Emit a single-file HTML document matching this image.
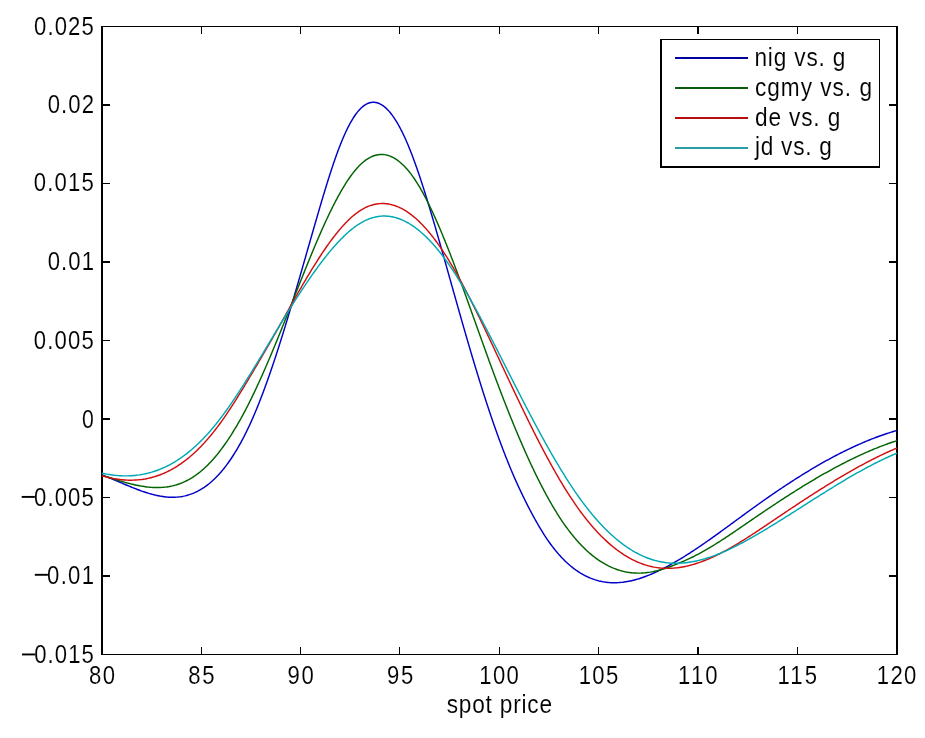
<!DOCTYPE html>
<html><head><meta charset="utf-8"><style>
html,body{margin:0;padding:0;background:#fff;width:925px;height:738px;overflow:hidden}
svg{display:block}
text{font-family:"Liberation Sans",sans-serif;fill:#000}
text{filter:grayscale(1)}
text{stroke:#fff;stroke-width:0.1px}
</style></head><body>
<svg width="925" height="738" viewBox="0 0 925 738">
<rect width="925" height="738" fill="#fff"/>
<g fill="#000" shape-rendering="crispEdges">
<rect x="101" y="26" width="2" height="629"/>
<rect x="896" y="26" width="2" height="629"/>
<rect x="101" y="26" width="797" height="1"/>
<rect x="101" y="654" width="797" height="1"/>
<rect x="201" y="647" width="1" height="7"/>
<rect x="201" y="27" width="1" height="7"/>
<rect x="300" y="647" width="1" height="7"/>
<rect x="300" y="27" width="1" height="7"/>
<rect x="399" y="647" width="1" height="7"/>
<rect x="399" y="27" width="1" height="7"/>
<rect x="499" y="647" width="1" height="7"/>
<rect x="499" y="27" width="1" height="7"/>
<rect x="598" y="647" width="1" height="7"/>
<rect x="598" y="27" width="1" height="7"/>
<rect x="697" y="647" width="2" height="7"/>
<rect x="697" y="27" width="2" height="7"/>
<rect x="797" y="647" width="1" height="7"/>
<rect x="797" y="27" width="1" height="7"/>
<rect x="103" y="104" width="7" height="2"/>
<rect x="889" y="104" width="7" height="2"/>
<rect x="103" y="183" width="7" height="1"/>
<rect x="889" y="183" width="7" height="1"/>
<rect x="103" y="261" width="7" height="2"/>
<rect x="889" y="261" width="7" height="2"/>
<rect x="103" y="340" width="7" height="1"/>
<rect x="889" y="340" width="7" height="1"/>
<rect x="103" y="418" width="7" height="2"/>
<rect x="889" y="418" width="7" height="2"/>
<rect x="103" y="497" width="7" height="1"/>
<rect x="889" y="497" width="7" height="1"/>
<rect x="103" y="575" width="7" height="2"/>
<rect x="889" y="575" width="7" height="2"/>
</g>
<path d="M102.00,474.98 L103.41,475.51 L104.81,476.05 L106.21,476.60 L107.61,477.15 L109.00,477.71 L110.39,478.28 L111.78,478.85 L113.17,479.43 L114.55,480.01 L115.94,480.60 L117.32,481.18 L118.71,481.77 L120.09,482.36 L121.47,482.95 L122.85,483.54 L124.24,484.13 L125.62,484.71 L127.01,485.29 L128.39,485.87 L129.78,486.45 L131.17,487.02 L132.57,487.58 L133.96,488.14 L135.36,488.69 L136.76,489.23 L138.17,489.77 L139.57,490.29 L140.99,490.81 L142.40,491.31 L143.82,491.80 L145.25,492.27 L146.68,492.74 L148.11,493.18 L149.55,493.61 L151.00,494.03 L152.45,494.42 L153.91,494.79 L155.37,495.15 L156.83,495.48 L158.30,495.78 L159.78,496.07 L161.26,496.32 L162.75,496.55 L164.24,496.75 L165.73,496.92 L167.23,497.06 L168.73,497.16 L170.23,497.23 L171.73,497.27 L173.23,497.26 L174.73,497.23 L176.24,497.15 L177.73,497.03 L179.23,496.87 L180.72,496.68 L182.20,496.44 L183.68,496.16 L185.15,495.84 L186.61,495.48 L188.05,495.07 L189.49,494.63 L190.91,494.14 L192.32,493.62 L193.71,493.06 L195.09,492.46 L196.45,491.82 L197.80,491.15 L199.12,490.44 L200.43,489.70 L201.72,488.93 L202.99,488.13 L204.25,487.30 L205.48,486.44 L206.69,485.55 L207.89,484.64 L209.07,483.71 L210.23,482.75 L211.37,481.77 L212.49,480.78 L213.59,479.76 L214.68,478.72 L215.75,477.67 L216.81,476.59 L217.85,475.51 L218.87,474.41 L219.87,473.29 L220.87,472.16 L221.84,471.02 L222.80,469.86 L223.75,468.70 L224.69,467.52 L225.61,466.33 L226.51,465.13 L227.41,463.93 L228.29,462.71 L229.16,461.48 L230.02,460.25 L230.87,459.01 L231.71,457.76 L232.53,456.51 L233.35,455.24 L234.15,453.97 L234.95,452.70 L235.73,451.42 L236.51,450.13 L237.27,448.84 L238.03,447.54 L238.78,446.23 L239.52,444.93 L240.25,443.61 L240.97,442.30 L241.69,440.97 L242.40,439.65 L243.10,438.32 L243.79,436.98 L244.47,435.65 L245.15,434.31 L245.82,432.96 L246.49,431.61 L247.15,430.26 L247.80,428.91 L248.44,427.55 L249.08,426.19 L249.71,424.83 L250.34,423.46 L250.96,422.09 L251.58,420.72 L252.19,419.35 L252.79,417.97 L253.39,416.59 L253.99,415.21 L254.58,413.83 L255.16,412.45 L255.74,411.06 L256.32,409.67 L256.89,408.28 L257.45,406.89 L258.02,405.50 L258.58,404.10 L259.13,402.70 L259.68,401.31 L260.23,399.91 L260.77,398.50 L261.31,397.10 L261.85,395.70 L262.39,394.29 L262.92,392.89 L263.44,391.48 L263.97,390.07 L264.49,388.66 L265.01,387.25 L265.52,385.84 L266.04,384.43 L266.55,383.01 L267.06,381.60 L267.56,380.18 L268.06,378.77 L268.56,377.35 L269.06,375.93 L269.56,374.51 L270.05,373.09 L270.54,371.67 L271.03,370.25 L271.52,368.83 L272.00,367.41 L272.48,365.98 L272.96,364.56 L273.44,363.14 L273.92,361.71 L274.39,360.28 L274.87,358.86 L275.34,357.43 L275.81,356.00 L276.28,354.57 L276.74,353.15 L277.21,351.72 L277.67,350.29 L278.13,348.86 L278.59,347.43 L279.05,345.99 L279.51,344.56 L279.96,343.13 L280.41,341.70 L280.87,340.26 L281.32,338.83 L281.77,337.40 L282.22,335.96 L282.66,334.53 L283.11,333.09 L283.55,331.66 L284.00,330.22 L284.44,328.78 L284.88,327.35 L285.32,325.91 L285.76,324.47 L286.20,323.03 L286.63,321.60 L287.07,320.16 L287.50,318.72 L287.94,317.28 L288.37,315.84 L288.80,314.40 L289.23,312.96 L289.66,311.52 L290.09,310.08 L290.52,308.64 L290.95,307.20 L291.38,305.76 L291.80,304.32 L292.23,302.88 L292.65,301.43 L293.08,299.99 L293.50,298.55 L293.93,297.11 L294.35,295.67 L294.77,294.22 L295.19,292.78 L295.61,291.34 L296.03,289.90 L296.45,288.45 L296.87,287.01 L297.29,285.57 L297.71,284.12 L298.13,282.68 L298.55,281.24 L298.96,279.79 L299.38,278.35 L299.80,276.90 L300.22,275.46 L300.63,274.02 L301.05,272.57 L301.46,271.13 L301.88,269.68 L302.29,268.24 L302.71,266.79 L303.12,265.35 L303.54,263.91 L303.95,262.46 L304.37,261.02 L304.78,259.57 L305.20,258.13 L305.61,256.68 L306.03,255.24 L306.44,253.79 L306.85,252.35 L307.27,250.90 L307.68,249.46 L308.10,248.01 L308.51,246.57 L308.93,245.12 L309.34,243.68 L309.75,242.24 L310.17,240.79 L310.58,239.35 L311.00,237.90 L311.41,236.46 L311.83,235.01 L312.25,233.57 L312.66,232.12 L313.08,230.68 L313.49,229.24 L313.91,227.79 L314.33,226.35 L314.74,224.90 L315.16,223.46 L315.58,222.02 L316.00,220.57 L316.42,219.13 L316.84,217.69 L317.25,216.24 L317.67,214.80 L318.10,213.36 L318.52,211.91 L318.94,210.47 L319.36,209.03 L319.78,207.59 L320.21,206.15 L320.63,204.70 L321.06,203.26 L321.49,201.82 L321.91,200.38 L322.34,198.94 L322.77,197.50 L323.20,196.06 L323.64,194.62 L324.07,193.18 L324.51,191.74 L324.94,190.31 L325.38,188.87 L325.82,187.43 L326.26,186.00 L326.71,184.56 L327.15,183.12 L327.60,181.69 L328.05,180.26 L328.50,178.82 L328.96,177.39 L329.41,175.96 L329.87,174.53 L330.33,173.10 L330.80,171.67 L331.26,170.24 L331.73,168.81 L332.21,167.38 L332.68,165.96 L333.16,164.53 L333.65,163.11 L334.13,161.69 L334.62,160.27 L335.12,158.85 L335.62,157.43 L336.12,156.01 L336.63,154.60 L337.14,153.19 L337.66,151.78 L338.18,150.37 L338.71,148.96 L339.24,147.56 L339.79,146.15 L340.33,144.75 L340.89,143.36 L341.45,141.96 L342.02,140.57 L342.60,139.19 L343.18,137.80 L343.78,136.42 L344.39,135.05 L345.00,133.68 L345.63,132.31 L346.26,130.95 L346.91,129.59 L347.57,128.24 L348.25,126.90 L348.94,125.56 L349.64,124.23 L350.36,122.92 L351.10,121.61 L351.85,120.31 L352.63,119.02 L353.42,117.74 L354.24,116.48 L355.09,115.24 L355.96,114.02 L356.87,112.82 L357.80,111.64 L358.78,110.50 L359.79,109.39 L360.84,108.32 L361.95,107.30 L363.10,106.33 L364.30,105.43 L365.56,104.61 L366.88,103.89 L368.25,103.28 L369.67,102.80 L371.14,102.46 L372.63,102.29 L374.13,102.29 L375.63,102.45 L377.09,102.78 L378.52,103.25 L379.90,103.84 L381.23,104.54 L382.50,105.34 L383.73,106.21 L384.90,107.15 L386.03,108.14 L387.11,109.19 L388.15,110.27 L389.16,111.38 L390.14,112.53 L391.08,113.70 L391.99,114.89 L392.88,116.10 L393.74,117.34 L394.58,118.58 L395.40,119.84 L396.19,121.12 L396.97,122.40 L397.73,123.70 L398.48,125.00 L399.21,126.32 L399.92,127.64 L400.62,128.97 L401.31,130.31 L401.99,131.65 L402.65,133.00 L403.30,134.35 L403.95,135.71 L404.58,137.07 L405.20,138.44 L405.82,139.81 L406.42,141.19 L407.02,142.57 L407.61,143.95 L408.19,145.34 L408.76,146.73 L409.33,148.12 L409.89,149.51 L410.44,150.91 L410.99,152.31 L411.54,153.71 L412.07,155.11 L412.61,156.52 L413.14,157.92 L413.66,159.33 L414.18,160.74 L414.69,162.16 L415.20,163.57 L415.71,164.98 L416.21,166.40 L416.71,167.82 L417.21,169.24 L417.70,170.66 L418.19,172.08 L418.67,173.50 L419.15,174.93 L419.63,176.35 L420.11,177.78 L420.58,179.20 L421.05,180.63 L421.52,182.06 L421.99,183.49 L422.45,184.92 L422.91,186.35 L423.37,187.78 L423.83,189.21 L424.28,190.64 L424.73,192.08 L425.18,193.51 L425.63,194.94 L426.08,196.38 L426.52,197.81 L426.96,199.25 L427.41,200.69 L427.85,202.12 L428.28,203.56 L428.72,205.00 L429.16,206.44 L429.59,207.88 L430.02,209.32 L430.45,210.76 L430.88,212.20 L431.31,213.64 L431.74,215.08 L432.16,216.52 L432.59,217.96 L433.01,219.40 L433.44,220.85 L433.86,222.29 L434.28,223.73 L434.70,225.17 L435.12,226.62 L435.54,228.06 L435.96,229.50 L436.37,230.95 L436.79,232.39 L437.20,233.84 L437.62,235.28 L438.03,236.73 L438.45,238.17 L438.86,239.62 L439.27,241.06 L439.68,242.51 L440.09,243.95 L440.51,245.40 L440.92,246.84 L441.33,248.29 L441.74,249.74 L442.15,251.18 L442.55,252.63 L442.96,254.07 L443.37,255.52 L443.78,256.97 L444.19,258.41 L444.60,259.86 L445.00,261.31 L445.41,262.75 L445.82,264.20 L446.23,265.65 L446.64,267.09 L447.04,268.54 L447.45,269.99 L447.86,271.43 L448.26,272.88 L448.67,274.33 L449.08,275.77 L449.49,277.22 L449.89,278.67 L450.30,280.11 L450.71,281.56 L451.11,283.01 L451.52,284.45 L451.93,285.90 L452.34,287.35 L452.74,288.79 L453.15,290.24 L453.56,291.69 L453.97,293.13 L454.37,294.58 L454.78,296.03 L455.19,297.47 L455.60,298.92 L456.01,300.37 L456.42,301.81 L456.82,303.26 L457.23,304.70 L457.64,306.15 L458.05,307.60 L458.46,309.04 L458.87,310.49 L459.28,311.93 L459.70,313.38 L460.11,314.82 L460.52,316.27 L460.93,317.72 L461.34,319.16 L461.76,320.61 L462.17,322.05 L462.58,323.50 L463.00,324.94 L463.41,326.38 L463.83,327.83 L464.24,329.27 L464.66,330.72 L465.07,332.16 L465.49,333.61 L465.91,335.05 L466.33,336.49 L466.75,337.94 L467.17,339.38 L467.59,340.82 L468.01,342.27 L468.43,343.71 L468.85,345.15 L469.27,346.59 L469.70,348.03 L470.12,349.48 L470.54,350.92 L470.97,352.36 L471.40,353.80 L471.82,355.24 L472.25,356.68 L472.68,358.12 L473.11,359.56 L473.54,361.00 L473.97,362.44 L474.40,363.88 L474.84,365.32 L475.27,366.76 L475.71,368.20 L476.14,369.64 L476.58,371.07 L477.02,372.51 L477.46,373.95 L477.90,375.39 L478.34,376.82 L478.78,378.26 L479.23,379.69 L479.67,381.13 L480.12,382.57 L480.57,384.00 L481.02,385.43 L481.47,386.87 L481.92,388.30 L482.37,389.73 L482.83,391.17 L483.28,392.60 L483.74,394.03 L484.20,395.46 L484.66,396.89 L485.12,398.32 L485.58,399.75 L486.05,401.18 L486.52,402.61 L486.98,404.04 L487.45,405.47 L487.92,406.89 L488.40,408.32 L488.87,409.75 L489.35,411.17 L489.82,412.60 L490.30,414.02 L490.78,415.45 L491.27,416.87 L491.75,418.29 L492.24,419.71 L492.73,421.14 L493.22,422.56 L493.71,423.98 L494.20,425.40 L494.70,426.81 L495.20,428.23 L495.70,429.65 L496.20,431.07 L496.70,432.48 L497.21,433.90 L497.72,435.31 L498.23,436.72 L498.75,438.14 L499.26,439.55 L499.78,440.96 L500.30,442.37 L500.82,443.78 L501.35,445.18 L501.88,446.59 L502.41,448.00 L502.94,449.40 L503.48,450.81 L504.02,452.21 L504.56,453.61 L505.11,455.01 L505.66,456.41 L506.21,457.81 L506.76,459.21 L507.32,460.60 L507.88,462.00 L508.44,463.39 L509.01,464.78 L509.58,466.17 L510.16,467.56 L510.74,468.95 L511.32,470.33 L511.90,471.72 L512.49,473.10 L513.09,474.48 L513.68,475.86 L514.29,477.24 L514.89,478.61 L515.50,479.99 L516.11,481.36 L516.73,482.73 L517.35,484.10 L517.97,485.47 L518.60,486.83 L519.23,488.19 L519.87,489.56 L520.51,490.92 L521.15,492.27 L521.80,493.63 L522.45,494.99 L523.10,496.34 L523.76,497.69 L524.43,499.04 L525.09,500.39 L525.76,501.73 L526.44,503.07 L527.11,504.42 L527.79,505.75 L528.48,507.09 L529.17,508.43 L529.86,509.76 L530.56,511.09 L531.27,512.42 L531.97,513.75 L532.69,515.07 L533.40,516.39 L534.12,517.71 L534.85,519.02 L535.59,520.34 L536.32,521.64 L537.07,522.95 L537.82,524.25 L538.57,525.55 L539.34,526.85 L540.11,528.14 L540.88,529.42 L541.67,530.71 L542.46,531.98 L543.25,533.26 L544.06,534.53 L544.87,535.79 L545.70,537.05 L546.53,538.30 L547.37,539.55 L548.22,540.79 L549.08,542.02 L549.95,543.24 L550.83,544.46 L551.72,545.67 L552.63,546.87 L553.54,548.06 L554.47,549.24 L555.41,550.42 L556.37,551.58 L557.34,552.73 L558.32,553.86 L559.31,554.99 L560.32,556.10 L561.35,557.20 L562.38,558.29 L563.44,559.36 L564.50,560.42 L565.58,561.47 L566.68,562.50 L567.79,563.51 L568.91,564.51 L570.05,565.49 L571.21,566.45 L572.38,567.39 L573.56,568.31 L574.77,569.22 L575.98,570.10 L577.22,570.96 L578.47,571.79 L579.73,572.60 L581.01,573.39 L582.31,574.15 L583.62,574.88 L584.95,575.59 L586.29,576.27 L587.65,576.91 L589.02,577.53 L590.40,578.11 L591.80,578.66 L593.21,579.18 L594.63,579.67 L596.07,580.12 L597.51,580.54 L598.96,580.92 L600.43,581.26 L601.90,581.57 L603.37,581.84 L604.86,582.08 L606.35,582.28 L607.84,582.45 L609.34,582.58 L610.84,582.67 L612.34,582.73 L613.84,582.76 L615.35,582.75 L616.85,582.71 L618.35,582.64 L619.85,582.53 L621.35,582.40 L622.84,582.24 L624.33,582.04 L625.82,581.82 L627.30,581.57 L628.78,581.30 L630.25,581.00 L631.72,580.67 L633.18,580.32 L634.63,579.95 L636.08,579.55 L637.53,579.14 L638.97,578.70 L640.40,578.25 L641.83,577.77 L643.25,577.28 L644.66,576.77 L646.07,576.25 L647.47,575.70 L648.86,575.15 L650.26,574.58 L651.64,573.99 L653.02,573.39 L654.39,572.78 L655.76,572.16 L657.12,571.52 L658.48,570.88 L659.83,570.22 L661.18,569.55 L662.52,568.88 L663.86,568.20 L665.19,567.50 L666.52,566.80 L667.85,566.09 L669.17,565.37 L670.48,564.65 L671.80,563.92 L673.11,563.18 L674.41,562.43 L675.71,561.68 L677.01,560.92 L678.30,560.16 L679.59,559.39 L680.88,558.61 L682.16,557.83 L683.44,557.04 L684.72,556.25 L685.99,555.45 L687.26,554.65 L688.53,553.84 L689.80,553.03 L691.06,552.21 L692.32,551.39 L693.57,550.56 L694.83,549.74 L696.08,548.90 L697.33,548.07 L698.57,547.23 L699.82,546.39 L701.06,545.54 L702.30,544.69 L703.54,543.84 L704.77,542.98 L706.01,542.13 L707.24,541.27 L708.47,540.40 L709.70,539.54 L710.93,538.67 L712.15,537.80 L713.38,536.93 L714.60,536.06 L715.82,535.18 L717.04,534.30 L718.26,533.43 L719.48,532.55 L720.70,531.67 L721.92,530.78 L723.13,529.90 L724.35,529.02 L725.56,528.13 L726.78,527.24 L727.99,526.36 L729.20,525.47 L730.41,524.58 L731.63,523.69 L732.84,522.80 L734.05,521.91 L735.26,521.03 L736.47,520.14 L737.69,519.25 L738.90,518.36 L740.11,517.47 L741.32,516.58 L742.53,515.69 L743.75,514.80 L744.96,513.92 L746.17,513.03 L747.39,512.15 L748.60,511.26 L749.82,510.38 L751.04,509.50 L752.25,508.61 L753.47,507.73 L754.69,506.86 L755.91,505.98 L757.13,505.10 L758.36,504.23 L759.58,503.36 L760.81,502.49 L762.03,501.62 L763.26,500.75 L764.49,499.89 L765.72,499.03 L766.95,498.16 L768.18,497.30 L769.42,496.45 L770.65,495.59 L771.89,494.74 L773.13,493.89 L774.37,493.04 L775.61,492.19 L776.85,491.35 L778.10,490.50 L779.34,489.66 L780.59,488.82 L781.84,487.99 L783.09,487.15 L784.34,486.32 L785.60,485.49 L786.85,484.66 L788.11,483.84 L789.37,483.02 L790.63,482.20 L791.89,481.38 L793.15,480.57 L794.42,479.76 L795.68,478.95 L796.95,478.14 L798.22,477.34 L799.49,476.54 L800.77,475.74 L802.04,474.95 L803.32,474.16 L804.60,473.37 L805.88,472.59 L807.17,471.80 L808.45,471.02 L809.74,470.25 L811.03,469.48 L812.32,468.71 L813.62,467.94 L814.91,467.18 L816.21,466.42 L817.51,465.67 L818.81,464.92 L820.11,464.17 L821.42,463.43 L822.73,462.69 L824.04,461.95 L825.35,461.22 L826.67,460.49 L827.98,459.77 L829.30,459.05 L830.62,458.33 L831.95,457.62 L833.27,456.91 L834.60,456.21 L835.93,455.51 L837.27,454.82 L838.60,454.13 L839.94,453.45 L841.28,452.77 L842.62,452.09 L843.97,451.42 L845.32,450.76 L846.67,450.10 L848.02,449.44 L849.38,448.79 L850.73,448.15 L852.09,447.51 L853.46,446.88 L854.82,446.25 L856.19,445.63 L857.56,445.01 L858.93,444.40 L860.31,443.79 L861.69,443.19 L863.07,442.60 L864.45,442.01 L865.84,441.43 L867.23,440.86 L868.62,440.29 L870.01,439.73 L871.41,439.17 L872.81,438.63 L874.21,438.08 L875.62,437.55 L877.02,437.02 L878.43,436.50 L879.85,435.99 L881.26,435.48 L882.68,434.98 L884.10,434.49 L885.52,434.01 L886.95,433.53 L888.38,433.07 L889.81,432.61 L891.24,432.16 L892.68,431.71 L894.12,431.28 L895.56,430.85 L897.00,430.43" fill="none" stroke="#0000c8" stroke-width="1.45" stroke-linejoin="round"/>
<path d="M102.00,475.21 L103.43,475.66 L104.87,476.12 L106.30,476.58 L107.73,477.03 L109.16,477.49 L110.59,477.95 L112.02,478.40 L113.46,478.86 L114.89,479.31 L116.32,479.76 L117.76,480.20 L119.20,480.64 L120.64,481.07 L122.08,481.50 L123.52,481.92 L124.97,482.33 L126.42,482.73 L127.87,483.12 L129.32,483.51 L130.78,483.88 L132.23,484.24 L133.70,484.58 L135.16,484.92 L136.63,485.23 L138.10,485.53 L139.58,485.82 L141.06,486.09 L142.54,486.33 L144.03,486.56 L145.51,486.77 L147.01,486.96 L148.50,487.12 L150.00,487.26 L151.49,487.38 L152.99,487.46 L154.50,487.53 L156.00,487.56 L157.50,487.57 L159.00,487.54 L160.51,487.49 L162.01,487.40 L163.50,487.28 L165.00,487.13 L166.49,486.95 L167.98,486.73 L169.46,486.48 L170.93,486.19 L172.40,485.87 L173.86,485.51 L175.31,485.12 L176.75,484.69 L178.18,484.23 L179.60,483.74 L181.01,483.21 L182.40,482.65 L183.79,482.05 L185.15,481.43 L186.50,480.77 L187.84,480.08 L189.16,479.37 L190.47,478.62 L191.76,477.85 L193.03,477.05 L194.29,476.23 L195.53,475.38 L196.75,474.51 L197.96,473.61 L199.15,472.70 L200.32,471.76 L201.48,470.80 L202.62,469.82 L203.75,468.83 L204.86,467.81 L205.95,466.78 L207.03,465.74 L208.10,464.68 L209.15,463.61 L210.19,462.52 L211.21,461.42 L212.23,460.31 L213.23,459.19 L214.21,458.06 L215.19,456.91 L216.15,455.76 L217.11,454.60 L218.05,453.43 L218.98,452.25 L219.90,451.06 L220.82,449.87 L221.72,448.67 L222.61,447.46 L223.50,446.24 L224.37,445.02 L225.24,443.79 L226.10,442.56 L226.95,441.32 L227.79,440.07 L228.62,438.82 L229.45,437.57 L230.27,436.31 L231.08,435.04 L231.88,433.78 L232.68,432.50 L233.47,431.22 L234.26,429.94 L235.03,428.66 L235.81,427.37 L236.57,426.07 L237.33,424.78 L238.08,423.48 L238.83,422.17 L239.57,420.87 L240.31,419.56 L241.04,418.24 L241.77,416.93 L242.49,415.61 L243.21,414.29 L243.92,412.96 L244.62,411.64 L245.32,410.31 L246.02,408.98 L246.71,407.64 L247.40,406.31 L248.08,404.97 L248.76,403.63 L249.44,402.28 L250.11,400.94 L250.77,399.59 L251.44,398.24 L252.09,396.89 L252.75,395.54 L253.40,394.18 L254.05,392.83 L254.69,391.47 L255.33,390.11 L255.97,388.75 L256.61,387.39 L257.24,386.02 L257.87,384.66 L258.50,383.29 L259.12,381.93 L259.74,380.56 L260.36,379.19 L260.98,377.82 L261.59,376.45 L262.21,375.08 L262.82,373.70 L263.42,372.33 L264.03,370.95 L264.63,369.58 L265.24,368.20 L265.84,366.82 L266.43,365.44 L267.03,364.06 L267.63,362.68 L268.22,361.30 L268.81,359.92 L269.40,358.54 L269.99,357.16 L270.57,355.77 L271.16,354.39 L271.74,353.00 L272.32,351.62 L272.90,350.23 L273.48,348.84 L274.06,347.46 L274.63,346.07 L275.21,344.68 L275.78,343.29 L276.35,341.90 L276.92,340.51 L277.49,339.12 L278.06,337.73 L278.63,336.34 L279.20,334.94 L279.76,333.55 L280.32,332.16 L280.89,330.76 L281.45,329.37 L282.01,327.98 L282.57,326.58 L283.13,325.19 L283.69,323.79 L284.25,322.40 L284.80,321.00 L285.36,319.60 L285.92,318.21 L286.47,316.81 L287.03,315.42 L287.58,314.02 L288.14,312.62 L288.69,311.22 L289.24,309.83 L289.80,308.43 L290.35,307.03 L290.90,305.63 L291.45,304.24 L292.01,302.84 L292.56,301.44 L293.11,300.04 L293.66,298.65 L294.21,297.25 L294.77,295.85 L295.32,294.45 L295.87,293.06 L296.42,291.66 L296.98,290.26 L297.53,288.86 L298.08,287.47 L298.64,286.07 L299.19,284.67 L299.75,283.27 L300.30,281.88 L300.86,280.48 L301.41,279.09 L301.97,277.69 L302.53,276.29 L303.08,274.90 L303.64,273.50 L304.20,272.11 L304.76,270.71 L305.32,269.32 L305.89,267.93 L306.45,266.53 L307.01,265.14 L307.58,263.75 L308.14,262.36 L308.71,260.96 L309.28,259.57 L309.85,258.18 L310.42,256.79 L310.99,255.40 L311.57,254.01 L312.14,252.62 L312.72,251.24 L313.30,249.85 L313.88,248.46 L314.46,247.08 L315.04,245.69 L315.63,244.31 L316.22,242.93 L316.81,241.54 L317.40,240.16 L317.99,238.78 L318.59,237.40 L319.19,236.02 L319.79,234.65 L320.39,233.27 L321.00,231.89 L321.60,230.52 L322.21,229.15 L322.83,227.77 L323.44,226.40 L324.06,225.03 L324.69,223.67 L325.31,222.30 L325.94,220.94 L326.57,219.57 L327.21,218.21 L327.85,216.85 L328.49,215.49 L329.14,214.14 L329.79,212.78 L330.45,211.43 L331.11,210.08 L331.77,208.73 L332.44,207.39 L333.12,206.04 L333.80,204.70 L334.48,203.37 L335.17,202.03 L335.87,200.70 L336.57,199.37 L337.28,198.05 L338.00,196.72 L338.72,195.40 L339.45,194.09 L340.18,192.78 L340.92,191.47 L341.68,190.17 L342.44,188.88 L343.20,187.58 L343.98,186.30 L344.77,185.02 L345.57,183.74 L346.37,182.48 L347.19,181.22 L348.02,179.96 L348.87,178.72 L349.72,177.48 L350.59,176.26 L351.48,175.04 L352.38,173.84 L353.29,172.65 L354.23,171.47 L355.18,170.31 L356.15,169.16 L357.14,168.03 L358.15,166.92 L359.19,165.83 L360.25,164.77 L361.34,163.74 L362.46,162.73 L363.61,161.76 L364.79,160.83 L366.00,159.94 L367.24,159.09 L368.51,158.30 L369.82,157.56 L371.17,156.88 L372.54,156.28 L373.95,155.75 L375.38,155.30 L376.84,154.94 L378.32,154.68 L379.81,154.52 L381.31,154.45 L382.82,154.49 L384.31,154.63 L385.80,154.87 L387.26,155.21 L388.70,155.63 L390.12,156.14 L391.50,156.72 L392.85,157.38 L394.17,158.09 L395.46,158.87 L396.72,159.70 L397.94,160.57 L399.13,161.49 L400.29,162.44 L401.42,163.43 L402.53,164.45 L403.61,165.49 L404.66,166.57 L405.69,167.66 L406.69,168.78 L407.68,169.91 L408.64,171.07 L409.58,172.24 L410.51,173.42 L411.42,174.62 L412.30,175.83 L413.18,177.06 L414.04,178.29 L414.88,179.53 L415.71,180.79 L416.52,182.05 L417.32,183.32 L418.12,184.60 L418.89,185.88 L419.66,187.18 L420.42,188.47 L421.17,189.78 L421.91,191.09 L422.64,192.40 L423.36,193.72 L424.07,195.04 L424.78,196.37 L425.48,197.70 L426.17,199.03 L426.85,200.37 L427.53,201.71 L428.20,203.06 L428.87,204.40 L429.53,205.75 L430.18,207.11 L430.83,208.46 L431.48,209.82 L432.12,211.18 L432.75,212.54 L433.38,213.91 L434.01,215.27 L434.63,216.64 L435.24,218.01 L435.86,219.38 L436.47,220.76 L437.07,222.13 L437.67,223.51 L438.27,224.89 L438.87,226.27 L439.46,227.65 L440.05,229.03 L440.64,230.42 L441.22,231.80 L441.80,233.19 L442.38,234.58 L442.95,235.96 L443.52,237.35 L444.09,238.74 L444.66,240.14 L445.22,241.53 L445.79,242.92 L446.35,244.32 L446.90,245.71 L447.46,247.11 L448.01,248.51 L448.56,249.90 L449.11,251.30 L449.66,252.70 L450.21,254.10 L450.75,255.50 L451.29,256.91 L451.83,258.31 L452.37,259.71 L452.91,261.11 L453.45,262.52 L453.98,263.92 L454.52,265.33 L455.05,266.73 L455.58,268.14 L456.11,269.55 L456.63,270.95 L457.16,272.36 L457.69,273.77 L458.21,275.18 L458.73,276.59 L459.26,278.00 L459.78,279.40 L460.30,280.81 L460.82,282.23 L461.33,283.64 L461.85,285.05 L462.37,286.46 L462.88,287.87 L463.40,289.28 L463.91,290.69 L464.43,292.11 L464.94,293.52 L465.45,294.93 L465.96,296.34 L466.47,297.76 L466.98,299.17 L467.49,300.59 L468.00,302.00 L468.51,303.41 L469.02,304.83 L469.53,306.24 L470.04,307.66 L470.54,309.07 L471.05,310.49 L471.56,311.90 L472.06,313.32 L472.57,314.73 L473.08,316.15 L473.58,317.56 L474.09,318.98 L474.59,320.39 L475.10,321.81 L475.60,323.22 L476.11,324.64 L476.61,326.05 L477.12,327.47 L477.63,328.88 L478.13,330.30 L478.64,331.71 L479.14,333.13 L479.65,334.54 L480.15,335.96 L480.66,337.37 L481.17,338.79 L481.67,340.20 L482.18,341.62 L482.69,343.03 L483.20,344.45 L483.70,345.86 L484.21,347.28 L484.72,348.69 L485.23,350.10 L485.74,351.52 L486.25,352.93 L486.76,354.34 L487.28,355.76 L487.79,357.17 L488.30,358.58 L488.81,359.99 L489.33,361.41 L489.84,362.82 L490.36,364.23 L490.88,365.64 L491.40,367.05 L491.91,368.46 L492.43,369.87 L492.95,371.28 L493.48,372.69 L494.00,374.10 L494.52,375.51 L495.05,376.92 L495.57,378.33 L496.10,379.73 L496.63,381.14 L497.16,382.55 L497.69,383.95 L498.22,385.36 L498.75,386.77 L499.28,388.17 L499.82,389.57 L500.35,390.98 L500.89,392.38 L501.43,393.79 L501.97,395.19 L502.51,396.59 L503.05,397.99 L503.59,399.39 L504.14,400.79 L504.68,402.19 L505.23,403.59 L505.78,404.99 L506.33,406.39 L506.88,407.79 L507.43,409.19 L507.99,410.58 L508.55,411.98 L509.10,413.38 L509.66,414.77 L510.22,416.17 L510.78,417.56 L511.35,418.95 L511.91,420.34 L512.48,421.74 L513.05,423.13 L513.62,424.52 L514.19,425.91 L514.77,427.30 L515.34,428.68 L515.92,430.07 L516.50,431.46 L517.08,432.84 L517.66,434.23 L518.25,435.61 L518.84,437.00 L519.42,438.38 L520.02,439.76 L520.61,441.14 L521.20,442.52 L521.80,443.90 L522.40,445.28 L523.00,446.66 L523.61,448.03 L524.21,449.41 L524.82,450.78 L525.43,452.15 L526.05,453.53 L526.66,454.90 L527.28,456.27 L527.90,457.64 L528.53,459.00 L529.15,460.37 L529.78,461.73 L530.41,463.10 L531.05,464.46 L531.69,465.82 L532.33,467.18 L532.97,468.54 L533.62,469.89 L534.27,471.25 L534.92,472.60 L535.57,473.96 L536.23,475.31 L536.90,476.66 L537.56,478.00 L538.23,479.35 L538.90,480.69 L539.58,482.03 L540.26,483.37 L540.95,484.71 L541.63,486.05 L542.32,487.38 L543.02,488.71 L543.72,490.04 L544.43,491.37 L545.13,492.70 L545.85,494.02 L546.56,495.34 L547.29,496.66 L548.01,497.97 L548.75,499.29 L549.48,500.60 L550.22,501.90 L550.97,503.21 L551.72,504.51 L552.48,505.81 L553.25,507.10 L554.02,508.39 L554.79,509.68 L555.57,510.96 L556.36,512.24 L557.16,513.52 L557.96,514.79 L558.77,516.05 L559.58,517.32 L560.40,518.58 L561.23,519.83 L562.07,521.08 L562.92,522.32 L563.77,523.55 L564.63,524.79 L565.50,526.01 L566.38,527.23 L567.27,528.44 L568.17,529.65 L569.07,530.85 L569.99,532.04 L570.91,533.23 L571.84,534.40 L572.79,535.57 L573.74,536.74 L574.70,537.89 L575.68,539.03 L576.66,540.17 L577.66,541.29 L578.66,542.41 L579.68,543.52 L580.71,544.61 L581.75,545.70 L582.81,546.77 L583.87,547.83 L584.95,548.88 L586.04,549.91 L587.14,550.93 L588.25,551.94 L589.38,552.94 L590.52,553.91 L591.67,554.88 L592.84,555.82 L594.02,556.75 L595.22,557.66 L596.43,558.56 L597.65,559.43 L598.89,560.28 L600.14,561.12 L601.40,561.93 L602.68,562.72 L603.97,563.48 L605.28,564.23 L606.60,564.94 L607.93,565.64 L609.28,566.30 L610.64,566.94 L612.02,567.55 L613.40,568.14 L614.80,568.69 L616.21,569.21 L617.63,569.70 L619.06,570.16 L620.50,570.59 L621.95,570.99 L623.41,571.35 L624.87,571.68 L626.35,571.98 L627.83,572.24 L629.31,572.46 L630.80,572.66 L632.30,572.82 L633.79,572.94 L635.29,573.03 L636.80,573.09 L638.30,573.11 L639.80,573.10 L641.30,573.06 L642.80,572.98 L644.30,572.88 L645.80,572.74 L647.29,572.57 L648.78,572.37 L650.27,572.15 L651.75,571.89 L653.23,571.61 L654.70,571.30 L656.16,570.96 L657.62,570.60 L659.07,570.22 L660.52,569.81 L661.96,569.39 L663.40,568.94 L664.83,568.48 L666.25,568.00 L667.67,567.51 L669.09,567.00 L670.50,566.48 L671.90,565.95 L673.30,565.41 L674.70,564.86 L676.10,564.30 L677.49,563.73 L678.88,563.16 L680.27,562.58 L681.65,562.00 L683.03,561.41 L684.41,560.81 L685.79,560.21 L687.16,559.59 L688.52,558.96 L689.88,558.32 L691.24,557.67 L692.59,557.01 L693.93,556.34 L695.27,555.66 L696.61,554.97 L697.94,554.27 L699.26,553.56 L700.58,552.85 L701.90,552.12 L703.21,551.39 L704.52,550.65 L705.83,549.90 L707.13,549.15 L708.42,548.39 L709.71,547.62 L711.00,546.85 L712.29,546.07 L713.57,545.29 L714.85,544.50 L716.13,543.71 L717.40,542.91 L718.67,542.10 L719.94,541.30 L721.20,540.49 L722.47,539.67 L723.73,538.85 L724.99,538.03 L726.24,537.21 L727.50,536.38 L728.75,535.55 L730.00,534.71 L731.25,533.88 L732.49,533.04 L733.74,532.20 L734.99,531.36 L736.23,530.51 L737.47,529.67 L738.71,528.82 L739.95,527.97 L741.19,527.12 L742.43,526.27 L743.67,525.42 L744.91,524.57 L746.15,523.72 L747.39,522.87 L748.62,522.01 L749.86,521.16 L751.10,520.31 L752.34,519.46 L753.58,518.61 L754.82,517.76 L756.06,516.91 L757.30,516.06 L758.54,515.22 L759.78,514.37 L761.03,513.53 L762.27,512.68 L763.51,511.84 L764.76,511.00 L766.01,510.16 L767.25,509.32 L768.50,508.48 L769.75,507.65 L771.00,506.81 L772.25,505.98 L773.50,505.15 L774.75,504.32 L776.01,503.49 L777.26,502.66 L778.52,501.83 L779.77,501.01 L781.03,500.19 L782.29,499.37 L783.55,498.55 L784.81,497.73 L786.07,496.91 L787.34,496.10 L788.60,495.29 L789.87,494.48 L791.14,493.67 L792.40,492.86 L793.67,492.06 L794.94,491.26 L796.22,490.46 L797.49,489.66 L798.77,488.86 L800.04,488.07 L801.32,487.28 L802.60,486.49 L803.88,485.71 L805.16,484.92 L806.45,484.14 L807.73,483.36 L809.02,482.59 L810.31,481.81 L811.60,481.04 L812.89,480.27 L814.18,479.51 L815.48,478.75 L816.77,477.99 L818.07,477.23 L819.37,476.48 L820.68,475.73 L821.98,474.98 L823.28,474.23 L824.59,473.49 L825.90,472.76 L827.21,472.02 L828.53,471.29 L829.84,470.56 L831.16,469.84 L832.48,469.12 L833.80,468.40 L835.12,467.69 L836.44,466.98 L837.77,466.27 L839.10,465.57 L840.43,464.87 L841.76,464.18 L843.10,463.49 L844.44,462.80 L845.78,462.12 L847.12,461.45 L848.46,460.77 L849.81,460.10 L851.16,459.44 L852.51,458.78 L853.86,458.13 L855.22,457.48 L856.57,456.83 L857.93,456.19 L859.29,455.56 L860.66,454.93 L862.03,454.30 L863.40,453.68 L864.77,453.07 L866.14,452.46 L867.52,451.86 L868.90,451.26 L870.28,450.67 L871.66,450.08 L873.05,449.50 L874.44,448.93 L875.83,448.36 L877.22,447.80 L878.62,447.24 L880.02,446.69 L881.42,446.15 L882.82,445.61 L884.23,445.08 L885.64,444.56 L887.05,444.04 L888.46,443.53 L889.88,443.03 L891.30,442.54 L892.72,442.05 L894.14,441.57 L895.57,441.10 L897.00,440.63" fill="none" stroke="#006400" stroke-width="1.45" stroke-linejoin="round"/>
<path d="M102.00,475.79 L103.44,476.20 L104.89,476.60 L106.35,476.98 L107.81,477.34 L109.27,477.68 L110.74,478.00 L112.21,478.31 L113.69,478.59 L115.17,478.85 L116.65,479.09 L118.14,479.30 L119.63,479.50 L121.12,479.67 L122.62,479.81 L124.11,479.94 L125.61,480.04 L127.11,480.11 L128.62,480.16 L130.12,480.18 L131.62,480.18 L133.12,480.15 L134.62,480.09 L136.13,480.01 L137.62,479.90 L139.12,479.76 L140.61,479.60 L142.10,479.41 L143.59,479.19 L145.07,478.95 L146.55,478.67 L148.02,478.37 L149.49,478.04 L150.95,477.69 L152.40,477.31 L153.85,476.90 L155.29,476.47 L156.72,476.01 L158.14,475.52 L159.56,475.01 L160.96,474.48 L162.35,473.92 L163.74,473.33 L165.11,472.73 L166.48,472.10 L167.83,471.44 L169.18,470.77 L170.51,470.07 L171.83,469.36 L173.14,468.62 L174.44,467.87 L175.72,467.09 L177.00,466.30 L178.26,465.48 L179.52,464.65 L180.76,463.81 L181.99,462.94 L183.21,462.06 L184.41,461.17 L185.61,460.26 L186.79,459.33 L187.96,458.39 L189.13,457.44 L190.28,456.47 L191.42,455.49 L192.54,454.50 L193.66,453.49 L194.77,452.48 L195.87,451.45 L196.95,450.41 L198.03,449.36 L199.09,448.30 L200.15,447.24 L201.20,446.16 L202.23,445.07 L203.26,443.97 L204.28,442.87 L205.29,441.76 L206.29,440.64 L207.28,439.51 L208.27,438.37 L209.24,437.23 L210.21,436.08 L211.17,434.92 L212.12,433.76 L213.07,432.59 L214.00,431.42 L214.93,430.23 L215.86,429.05 L216.77,427.86 L217.68,426.66 L218.58,425.46 L219.48,424.25 L220.36,423.04 L221.25,421.82 L222.12,420.60 L222.99,419.37 L223.85,418.14 L224.71,416.91 L225.56,415.67 L226.41,414.43 L227.25,413.18 L228.08,411.93 L228.91,410.68 L229.74,409.43 L230.56,408.17 L231.38,406.91 L232.20,405.65 L233.01,404.38 L233.82,403.11 L234.62,401.85 L235.42,400.57 L236.22,399.30 L237.02,398.03 L237.81,396.75 L238.60,395.47 L239.39,394.19 L240.18,392.91 L240.96,391.63 L241.75,390.35 L242.53,389.07 L243.31,387.78 L244.09,386.50 L244.87,385.21 L245.64,383.92 L246.42,382.64 L247.19,381.35 L247.96,380.06 L248.74,378.77 L249.51,377.48 L250.28,376.19 L251.05,374.90 L251.82,373.61 L252.59,372.32 L253.35,371.03 L254.12,369.73 L254.89,368.44 L255.65,367.15 L256.42,365.85 L257.18,364.56 L257.94,363.26 L258.70,361.97 L259.46,360.67 L260.22,359.38 L260.98,358.08 L261.74,356.78 L262.50,355.48 L263.25,354.18 L264.01,352.88 L264.76,351.58 L265.51,350.28 L266.27,348.98 L267.02,347.68 L267.77,346.38 L268.52,345.08 L269.27,343.77 L270.01,342.47 L270.76,341.17 L271.51,339.86 L272.25,338.56 L272.99,337.25 L273.74,335.95 L274.48,334.64 L275.22,333.33 L275.96,332.02 L276.70,330.72 L277.44,329.41 L278.18,328.10 L278.91,326.79 L279.65,325.48 L280.39,324.17 L281.12,322.86 L281.86,321.55 L282.59,320.24 L283.33,318.93 L284.06,317.62 L284.80,316.31 L285.53,314.99 L286.27,313.68 L287.01,312.37 L287.74,311.06 L288.48,309.75 L289.21,308.44 L289.95,307.13 L290.69,305.82 L291.42,304.51 L292.16,303.21 L292.90,301.90 L293.64,300.59 L294.38,299.28 L295.12,297.98 L295.87,296.67 L296.61,295.36 L297.36,294.06 L298.10,292.75 L298.85,291.45 L299.60,290.15 L300.35,288.84 L301.10,287.54 L301.85,286.24 L302.61,284.94 L303.36,283.65 L304.12,282.35 L304.88,281.05 L305.65,279.76 L306.41,278.46 L307.18,277.17 L307.95,275.88 L308.72,274.59 L309.49,273.30 L310.27,272.02 L311.05,270.73 L311.83,269.45 L312.62,268.17 L313.41,266.89 L314.20,265.61 L315.00,264.34 L315.79,263.07 L316.60,261.79 L317.40,260.53 L318.21,259.26 L319.03,258.00 L319.84,256.74 L320.67,255.48 L321.49,254.22 L322.33,252.97 L323.16,251.72 L324.00,250.48 L324.85,249.24 L325.70,248.00 L326.56,246.77 L327.42,245.54 L328.29,244.31 L329.17,243.09 L330.05,241.87 L330.94,240.66 L331.84,239.45 L332.74,238.25 L333.65,237.06 L334.57,235.87 L335.50,234.69 L336.43,233.51 L337.38,232.34 L338.33,231.18 L339.29,230.03 L340.27,228.88 L341.25,227.75 L342.25,226.62 L343.25,225.50 L344.27,224.40 L345.30,223.31 L346.34,222.22 L347.40,221.16 L348.47,220.10 L349.56,219.07 L350.66,218.04 L351.78,217.04 L352.91,216.05 L354.07,215.09 L355.24,214.15 L356.43,213.23 L357.64,212.34 L358.87,211.47 L360.12,210.64 L361.39,209.84 L362.69,209.08 L364.00,208.36 L365.34,207.67 L366.70,207.03 L368.08,206.44 L369.48,205.89 L370.90,205.40 L372.34,204.96 L373.79,204.57 L375.25,204.24 L376.73,203.98 L378.22,203.77 L379.72,203.62 L381.22,203.54 L382.72,203.52 L384.22,203.57 L385.72,203.67 L387.21,203.84 L388.70,204.07 L390.17,204.35 L391.64,204.69 L393.09,205.09 L394.52,205.53 L395.94,206.03 L397.34,206.57 L398.73,207.16 L400.09,207.79 L401.44,208.46 L402.76,209.16 L404.07,209.90 L405.36,210.67 L406.63,211.47 L407.88,212.30 L409.12,213.16 L410.33,214.05 L411.53,214.95 L412.71,215.88 L413.88,216.83 L415.03,217.80 L416.16,218.79 L417.27,219.80 L418.37,220.82 L419.46,221.86 L420.53,222.91 L421.59,223.98 L422.64,225.06 L423.67,226.15 L424.69,227.25 L425.70,228.37 L426.69,229.49 L427.68,230.63 L428.65,231.77 L429.61,232.93 L430.56,234.09 L431.50,235.26 L432.44,236.44 L433.36,237.63 L434.27,238.82 L435.17,240.02 L436.07,241.23 L436.95,242.45 L437.83,243.67 L438.70,244.89 L439.56,246.12 L440.41,247.36 L441.26,248.60 L442.10,249.85 L442.93,251.10 L443.75,252.36 L444.57,253.62 L445.38,254.88 L446.19,256.15 L446.99,257.42 L447.78,258.70 L448.57,259.98 L449.36,261.26 L450.13,262.55 L450.91,263.83 L451.67,265.13 L452.44,266.42 L453.20,267.72 L453.95,269.02 L454.70,270.32 L455.45,271.62 L456.19,272.93 L456.93,274.24 L457.66,275.55 L458.39,276.86 L459.12,278.18 L459.84,279.50 L460.56,280.82 L461.28,282.14 L461.99,283.46 L462.70,284.78 L463.41,286.11 L464.12,287.44 L464.82,288.76 L465.52,290.09 L466.21,291.43 L466.91,292.76 L467.60,294.09 L468.29,295.43 L468.98,296.76 L469.66,298.10 L470.34,299.44 L471.02,300.78 L471.70,302.12 L472.38,303.46 L473.05,304.81 L473.72,306.15 L474.39,307.50 L475.06,308.84 L475.73,310.19 L476.39,311.54 L477.06,312.88 L477.72,314.23 L478.38,315.58 L479.04,316.93 L479.70,318.28 L480.35,319.64 L481.01,320.99 L481.66,322.34 L482.32,323.70 L482.97,325.05 L483.62,326.40 L484.27,327.76 L484.92,329.12 L485.56,330.47 L486.21,331.83 L486.86,333.18 L487.50,334.54 L488.14,335.90 L488.79,337.26 L489.43,338.62 L490.07,339.98 L490.71,341.33 L491.35,342.69 L491.99,344.05 L492.63,345.41 L493.27,346.77 L493.91,348.13 L494.55,349.49 L495.19,350.86 L495.82,352.22 L496.46,353.58 L497.10,354.94 L497.73,356.30 L498.37,357.66 L499.01,359.02 L499.64,360.38 L500.28,361.75 L500.91,363.11 L501.55,364.47 L502.19,365.83 L502.82,367.19 L503.46,368.55 L504.09,369.91 L504.73,371.28 L505.37,372.64 L506.01,374.00 L506.64,375.36 L507.28,376.72 L507.92,378.08 L508.56,379.44 L509.20,380.80 L509.83,382.16 L510.47,383.52 L511.11,384.88 L511.76,386.24 L512.40,387.60 L513.04,388.96 L513.68,390.32 L514.32,391.67 L514.97,393.03 L515.61,394.39 L516.26,395.75 L516.90,397.10 L517.55,398.46 L518.20,399.81 L518.85,401.17 L519.50,402.53 L520.15,403.88 L520.80,405.23 L521.45,406.59 L522.10,407.94 L522.76,409.30 L523.41,410.65 L524.07,412.00 L524.72,413.35 L525.38,414.70 L526.04,416.05 L526.70,417.40 L527.36,418.75 L528.03,420.10 L528.69,421.45 L529.36,422.80 L530.02,424.14 L530.69,425.49 L531.36,426.83 L532.03,428.18 L532.70,429.52 L533.38,430.87 L534.05,432.21 L534.73,433.55 L535.41,434.89 L536.09,436.23 L536.77,437.57 L537.45,438.91 L538.14,440.25 L538.82,441.58 L539.51,442.92 L540.20,444.25 L540.90,445.59 L541.59,446.92 L542.29,448.25 L542.99,449.58 L543.69,450.91 L544.39,452.24 L545.09,453.57 L545.80,454.89 L546.51,456.22 L547.22,457.54 L547.94,458.86 L548.65,460.18 L549.37,461.50 L550.10,462.82 L550.82,464.14 L551.55,465.45 L552.28,466.76 L553.01,468.08 L553.75,469.39 L554.49,470.70 L555.23,472.00 L555.97,473.31 L556.72,474.61 L557.47,475.91 L558.23,477.21 L558.99,478.51 L559.75,479.80 L560.51,481.10 L561.28,482.39 L562.06,483.68 L562.83,484.96 L563.61,486.25 L564.40,487.53 L565.19,488.81 L565.98,490.08 L566.78,491.36 L567.58,492.63 L568.39,493.89 L569.20,495.16 L570.02,496.42 L570.84,497.68 L571.67,498.93 L572.50,500.18 L573.34,501.43 L574.18,502.67 L575.03,503.91 L575.89,505.15 L576.75,506.38 L577.61,507.61 L578.49,508.83 L579.37,510.05 L580.25,511.26 L581.15,512.47 L582.05,513.68 L582.95,514.87 L583.87,516.07 L584.79,517.26 L585.71,518.44 L586.65,519.62 L587.59,520.79 L588.54,521.95 L589.49,523.11 L590.46,524.26 L591.43,525.41 L592.41,526.55 L593.40,527.68 L594.40,528.81 L595.40,529.92 L596.41,531.03 L597.44,532.13 L598.47,533.23 L599.51,534.31 L600.55,535.39 L601.61,536.46 L602.68,537.51 L603.76,538.56 L604.84,539.60 L605.94,540.63 L607.04,541.65 L608.16,542.65 L609.29,543.65 L610.42,544.63 L611.57,545.60 L612.73,546.56 L613.89,547.51 L615.07,548.44 L616.26,549.36 L617.46,550.26 L618.67,551.15 L619.90,552.03 L621.13,552.88 L622.38,553.72 L623.63,554.55 L624.90,555.35 L626.18,556.14 L627.47,556.91 L628.77,557.66 L630.09,558.39 L631.41,559.10 L632.75,559.79 L634.09,560.45 L635.45,561.10 L636.82,561.72 L638.20,562.31 L639.59,562.88 L640.99,563.43 L642.40,563.95 L643.82,564.44 L645.25,564.91 L646.69,565.35 L648.13,565.76 L649.59,566.14 L651.05,566.49 L652.51,566.81 L653.99,567.11 L655.47,567.37 L656.95,567.60 L658.44,567.80 L659.94,567.96 L661.43,568.10 L662.93,568.21 L664.43,568.29 L665.93,568.33 L667.44,568.35 L668.94,568.34 L670.44,568.30 L671.94,568.23 L673.44,568.13 L674.94,568.01 L676.43,567.86 L677.93,567.68 L679.42,567.48 L680.90,567.25 L682.38,567.00 L683.86,566.72 L685.33,566.43 L686.80,566.11 L688.26,565.76 L689.72,565.40 L691.18,565.02 L692.62,564.62 L694.07,564.19 L695.50,563.75 L696.93,563.30 L698.36,562.82 L699.78,562.33 L701.19,561.82 L702.60,561.30 L704.01,560.76 L705.40,560.21 L706.80,559.64 L708.18,559.06 L709.56,558.47 L710.94,557.87 L712.31,557.25 L713.68,556.62 L715.04,555.98 L716.39,555.34 L717.74,554.68 L719.09,554.01 L720.43,553.33 L721.76,552.64 L723.09,551.94 L724.42,551.24 L725.74,550.52 L727.06,549.80 L728.38,549.07 L729.69,548.34 L730.99,547.60 L732.30,546.85 L733.60,546.09 L734.89,545.33 L736.19,544.57 L737.47,543.79 L738.76,543.02 L740.04,542.23 L741.32,541.45 L742.60,540.66 L743.88,539.86 L745.15,539.06 L746.42,538.26 L747.69,537.45 L748.95,536.64 L750.21,535.83 L751.48,535.01 L752.73,534.19 L753.99,533.37 L755.25,532.54 L756.50,531.71 L757.76,530.89 L759.01,530.05 L760.26,529.22 L761.51,528.39 L762.76,527.55 L764.01,526.71 L765.25,525.88 L766.50,525.04 L767.75,524.20 L768.99,523.36 L770.24,522.52 L771.48,521.68 L772.73,520.83 L773.97,519.99 L775.22,519.15 L776.47,518.31 L777.71,517.47 L778.96,516.63 L780.21,515.79 L781.45,514.96 L782.70,514.12 L783.95,513.28 L785.20,512.44 L786.44,511.61 L787.69,510.77 L788.94,509.94 L790.19,509.10 L791.44,508.27 L792.69,507.44 L793.95,506.61 L795.20,505.78 L796.45,504.95 L797.71,504.12 L798.96,503.29 L800.21,502.46 L801.47,501.64 L802.73,500.81 L803.98,499.99 L805.24,499.17 L806.50,498.35 L807.76,497.53 L809.02,496.71 L810.28,495.90 L811.55,495.08 L812.81,494.27 L814.07,493.46 L815.34,492.65 L816.61,491.84 L817.88,491.03 L819.14,490.23 L820.41,489.42 L821.69,488.62 L822.96,487.82 L824.23,487.03 L825.51,486.23 L826.78,485.44 L828.06,484.65 L829.34,483.86 L830.62,483.07 L831.90,482.29 L833.19,481.51 L834.47,480.73 L835.76,479.95 L837.05,479.17 L838.33,478.40 L839.63,477.63 L840.92,476.87 L842.21,476.10 L843.51,475.34 L844.80,474.58 L846.10,473.83 L847.40,473.07 L848.71,472.33 L850.01,471.58 L851.32,470.84 L852.63,470.10 L853.94,469.36 L855.25,468.63 L856.56,467.90 L857.88,467.17 L859.19,466.45 L860.51,465.73 L861.84,465.02 L863.16,464.30 L864.49,463.60 L865.81,462.89 L867.14,462.19 L868.48,461.50 L869.81,460.81 L871.15,460.12 L872.49,459.44 L873.83,458.76 L875.17,458.09 L876.52,457.42 L877.87,456.76 L879.22,456.10 L880.57,455.44 L881.92,454.80 L883.28,454.15 L884.64,453.51 L886.01,452.88 L887.37,452.25 L888.74,451.63 L890.11,451.01 L891.48,450.40 L892.86,449.80 L894.24,449.20 L895.62,448.60 L897.00,448.02" fill="none" stroke="#d01010" stroke-width="1.45" stroke-linejoin="round"/>
<path d="M102.00,473.21 L103.47,473.52 L104.94,473.82 L106.42,474.09 L107.90,474.35 L109.39,474.59 L110.87,474.82 L112.36,475.02 L113.86,475.20 L115.35,475.36 L116.85,475.50 L118.35,475.62 L119.85,475.72 L121.35,475.80 L122.85,475.85 L124.35,475.88 L125.86,475.89 L127.36,475.87 L128.86,475.84 L130.36,475.77 L131.86,475.69 L133.36,475.58 L134.86,475.45 L136.36,475.29 L137.85,475.10 L139.34,474.90 L140.82,474.66 L142.30,474.41 L143.78,474.13 L145.25,473.82 L146.72,473.49 L148.18,473.13 L149.63,472.75 L151.08,472.35 L152.52,471.92 L153.96,471.47 L155.38,471.00 L156.80,470.50 L158.21,469.98 L159.61,469.44 L161.01,468.87 L162.39,468.29 L163.77,467.68 L165.13,467.05 L166.49,466.40 L167.83,465.73 L169.17,465.04 L170.49,464.33 L171.81,463.60 L173.11,462.86 L174.41,462.09 L175.69,461.31 L176.97,460.51 L178.23,459.70 L179.48,458.87 L180.72,458.02 L181.95,457.16 L183.18,456.28 L184.39,455.39 L185.59,454.48 L186.77,453.56 L187.95,452.63 L189.12,451.69 L190.28,450.73 L191.43,449.76 L192.57,448.78 L193.70,447.79 L194.82,446.78 L195.93,445.77 L197.03,444.75 L198.12,443.71 L199.20,442.67 L200.28,441.62 L201.34,440.55 L202.40,439.48 L203.44,438.40 L204.48,437.32 L205.51,436.22 L206.53,435.12 L207.54,434.01 L208.55,432.89 L209.54,431.76 L210.53,430.63 L211.51,429.49 L212.48,428.34 L213.45,427.19 L214.41,426.03 L215.36,424.87 L216.30,423.70 L217.24,422.52 L218.17,421.34 L219.09,420.15 L220.00,418.96 L220.92,417.76 L221.82,416.56 L222.72,415.36 L223.61,414.15 L224.50,412.94 L225.38,411.72 L226.26,410.50 L227.14,409.28 L228.01,408.05 L228.87,406.82 L229.73,405.59 L230.59,404.35 L231.44,403.11 L232.29,401.87 L233.13,400.63 L233.98,399.38 L234.81,398.14 L235.65,396.89 L236.48,395.63 L237.31,394.38 L238.13,393.12 L238.96,391.86 L239.78,390.60 L240.59,389.34 L241.41,388.08 L242.22,386.81 L243.03,385.55 L243.84,384.28 L244.64,383.01 L245.45,381.74 L246.25,380.47 L247.05,379.20 L247.85,377.92 L248.64,376.65 L249.44,375.37 L250.23,374.09 L251.02,372.82 L251.81,371.54 L252.60,370.26 L253.39,368.98 L254.17,367.69 L254.96,366.41 L255.74,365.13 L256.52,363.85 L257.30,362.56 L258.09,361.28 L258.86,359.99 L259.64,358.71 L260.42,357.42 L261.20,356.13 L261.98,354.85 L262.75,353.56 L263.53,352.27 L264.30,350.98 L265.08,349.69 L265.85,348.41 L266.63,347.12 L267.40,345.83 L268.17,344.54 L268.95,343.25 L269.72,341.96 L270.50,340.67 L271.27,339.38 L272.04,338.10 L272.82,336.81 L273.59,335.52 L274.37,334.23 L275.14,332.94 L275.92,331.65 L276.69,330.37 L277.47,329.08 L278.25,327.79 L279.02,326.51 L279.80,325.22 L280.58,323.93 L281.36,322.65 L282.14,321.37 L282.93,320.08 L283.71,318.80 L284.49,317.52 L285.28,316.23 L286.07,314.95 L286.85,313.67 L287.64,312.39 L288.43,311.12 L289.23,309.84 L290.02,308.56 L290.82,307.29 L291.62,306.01 L292.42,304.74 L293.22,303.47 L294.02,302.20 L294.83,300.93 L295.63,299.66 L296.44,298.39 L297.26,297.13 L298.07,295.87 L298.89,294.60 L299.71,293.34 L300.53,292.08 L301.35,290.83 L302.18,289.57 L303.01,288.32 L303.84,287.07 L304.68,285.82 L305.51,284.57 L306.35,283.32 L307.20,282.08 L308.05,280.84 L308.90,279.60 L309.75,278.36 L310.61,277.12 L311.47,275.89 L312.33,274.66 L313.20,273.43 L314.07,272.21 L314.95,270.99 L315.83,269.77 L316.71,268.55 L317.60,267.34 L318.49,266.13 L319.38,264.92 L320.29,263.72 L321.19,262.52 L322.10,261.32 L323.02,260.13 L323.94,258.94 L324.86,257.76 L325.80,256.58 L326.73,255.40 L327.68,254.23 L328.62,253.06 L329.58,251.90 L330.54,250.75 L331.51,249.60 L332.49,248.45 L333.47,247.32 L334.46,246.19 L335.46,245.06 L336.46,243.95 L337.48,242.84 L338.50,241.74 L339.54,240.65 L340.58,239.56 L341.63,238.49 L342.70,237.43 L343.77,236.38 L344.86,235.34 L345.95,234.31 L347.06,233.29 L348.18,232.29 L349.32,231.31 L350.47,230.34 L351.63,229.38 L352.81,228.45 L354.00,227.53 L355.20,226.64 L356.43,225.76 L357.67,224.91 L358.93,224.09 L360.20,223.29 L361.49,222.53 L362.81,221.79 L364.13,221.09 L365.48,220.43 L366.85,219.80 L368.24,219.22 L369.64,218.68 L371.06,218.18 L372.49,217.74 L373.94,217.34 L375.41,216.99 L376.88,216.69 L378.36,216.45 L379.85,216.26 L381.35,216.13 L382.85,216.06 L384.36,216.03 L385.86,216.07 L387.36,216.16 L388.86,216.31 L390.35,216.51 L391.83,216.76 L393.30,217.06 L394.76,217.41 L396.21,217.81 L397.65,218.26 L399.07,218.75 L400.47,219.28 L401.86,219.85 L403.24,220.46 L404.60,221.10 L405.94,221.78 L407.26,222.49 L408.57,223.23 L409.86,224.00 L411.14,224.80 L412.39,225.62 L413.63,226.47 L414.86,227.34 L416.07,228.24 L417.26,229.15 L418.44,230.08 L419.60,231.04 L420.75,232.00 L421.89,232.99 L423.01,233.99 L424.12,235.01 L425.21,236.04 L426.29,237.08 L427.36,238.14 L428.42,239.21 L429.46,240.29 L430.50,241.38 L431.52,242.48 L432.53,243.60 L433.53,244.72 L434.52,245.85 L435.50,246.99 L436.47,248.14 L437.43,249.29 L438.38,250.46 L439.32,251.63 L440.26,252.81 L441.18,253.99 L442.10,255.18 L443.01,256.38 L443.91,257.59 L444.80,258.80 L445.68,260.01 L446.56,261.23 L447.43,262.46 L448.30,263.69 L449.15,264.92 L450.00,266.16 L450.85,267.41 L451.69,268.65 L452.52,269.91 L453.35,271.16 L454.17,272.42 L454.99,273.68 L455.80,274.95 L456.60,276.22 L457.41,277.49 L458.20,278.76 L459.00,280.04 L459.79,281.32 L460.57,282.60 L461.35,283.89 L462.13,285.17 L462.90,286.46 L463.67,287.75 L464.43,289.05 L465.20,290.34 L465.95,291.64 L466.71,292.94 L467.46,294.24 L468.21,295.55 L468.96,296.85 L469.70,298.16 L470.44,299.47 L471.18,300.78 L471.91,302.09 L472.64,303.40 L473.37,304.71 L474.10,306.03 L474.83,307.35 L475.55,308.66 L476.27,309.98 L476.99,311.30 L477.71,312.63 L478.42,313.95 L479.13,315.27 L479.84,316.60 L480.55,317.92 L481.26,319.25 L481.96,320.58 L482.67,321.91 L483.37,323.23 L484.07,324.56 L484.77,325.90 L485.47,327.23 L486.17,328.56 L486.86,329.89 L487.55,331.22 L488.25,332.56 L488.94,333.89 L489.63,335.23 L490.32,336.56 L491.01,337.90 L491.70,339.24 L492.38,340.58 L493.07,341.91 L493.75,343.25 L494.44,344.59 L495.12,345.93 L495.80,347.27 L496.49,348.61 L497.17,349.95 L497.85,351.29 L498.53,352.63 L499.21,353.97 L499.89,355.31 L500.57,356.65 L501.25,357.99 L501.93,359.33 L502.60,360.67 L503.28,362.02 L503.96,363.36 L504.64,364.70 L505.32,366.04 L505.99,367.38 L506.67,368.72 L507.35,370.07 L508.03,371.41 L508.71,372.75 L509.38,374.09 L510.06,375.43 L510.74,376.77 L511.42,378.12 L512.10,379.46 L512.78,380.80 L513.46,382.14 L514.14,383.48 L514.82,384.82 L515.50,386.16 L516.18,387.50 L516.86,388.84 L517.55,390.18 L518.23,391.52 L518.91,392.86 L519.60,394.19 L520.28,395.53 L520.97,396.87 L521.66,398.21 L522.35,399.54 L523.03,400.88 L523.72,402.22 L524.41,403.55 L525.10,404.89 L525.79,406.22 L526.49,407.56 L527.18,408.89 L527.88,410.22 L528.57,411.56 L529.27,412.89 L529.97,414.22 L530.66,415.55 L531.36,416.88 L532.06,418.21 L532.77,419.54 L533.47,420.87 L534.17,422.20 L534.88,423.52 L535.59,424.85 L536.30,426.18 L537.01,427.50 L537.72,428.82 L538.43,430.15 L539.15,431.47 L539.86,432.79 L540.58,434.11 L541.30,435.43 L542.02,436.75 L542.74,438.07 L543.47,439.39 L544.19,440.70 L544.92,442.02 L545.65,443.33 L546.39,444.65 L547.12,445.96 L547.86,447.27 L548.59,448.58 L549.33,449.89 L550.08,451.19 L550.82,452.50 L551.57,453.80 L552.32,455.11 L553.07,456.41 L553.82,457.71 L554.58,459.01 L555.34,460.31 L556.10,461.60 L556.87,462.90 L557.63,464.19 L558.40,465.48 L559.18,466.77 L559.95,468.06 L560.73,469.34 L561.52,470.62 L562.30,471.91 L563.09,473.19 L563.88,474.46 L564.68,475.74 L565.48,477.01 L566.28,478.28 L567.09,479.55 L567.90,480.82 L568.71,482.08 L569.53,483.34 L570.35,484.60 L571.18,485.86 L572.01,487.11 L572.84,488.36 L573.68,489.61 L574.53,490.85 L575.37,492.09 L576.23,493.33 L577.09,494.56 L577.95,495.79 L578.82,497.02 L579.69,498.24 L580.57,499.46 L581.46,500.68 L582.35,501.89 L583.25,503.09 L584.15,504.29 L585.06,505.49 L585.98,506.68 L586.90,507.87 L587.83,509.05 L588.76,510.23 L589.70,511.40 L590.65,512.57 L591.60,513.73 L592.57,514.89 L593.53,516.04 L594.51,517.18 L595.49,518.32 L596.48,519.45 L597.48,520.58 L598.48,521.69 L599.50,522.81 L600.52,523.91 L601.55,525.01 L602.58,526.09 L603.63,527.18 L604.68,528.25 L605.74,529.31 L606.81,530.37 L607.89,531.42 L608.97,532.46 L610.07,533.49 L611.17,534.51 L612.29,535.52 L613.41,536.51 L614.54,537.50 L615.69,538.48 L616.84,539.45 L618.00,540.40 L619.17,541.34 L620.35,542.27 L621.54,543.19 L622.74,544.09 L623.96,544.98 L625.18,545.86 L626.41,546.72 L627.66,547.56 L628.91,548.39 L630.17,549.20 L631.45,550.00 L632.73,550.78 L634.03,551.54 L635.34,552.28 L636.66,553.00 L637.99,553.71 L639.32,554.39 L640.67,555.05 L642.03,555.69 L643.40,556.31 L644.79,556.91 L646.18,557.48 L647.58,558.02 L648.99,558.55 L650.40,559.04 L651.83,559.52 L653.27,559.96 L654.71,560.38 L656.16,560.77 L657.62,561.13 L659.09,561.46 L660.56,561.76 L662.04,562.04 L663.52,562.29 L665.01,562.51 L666.50,562.70 L667.99,562.86 L669.49,562.99 L670.99,563.10 L672.49,563.17 L674.00,563.22 L675.50,563.25 L677.00,563.24 L678.50,563.21 L680.01,563.15 L681.51,563.07 L683.01,562.96 L684.50,562.83 L686.00,562.67 L687.49,562.49 L688.98,562.29 L690.47,562.06 L691.95,561.81 L693.43,561.55 L694.90,561.26 L696.38,560.94 L697.84,560.62 L699.30,560.27 L700.76,559.90 L702.21,559.51 L703.66,559.11 L705.11,558.69 L706.55,558.26 L707.98,557.81 L709.41,557.34 L710.83,556.86 L712.25,556.36 L713.67,555.86 L715.08,555.33 L716.48,554.80 L717.88,554.25 L719.28,553.69 L720.67,553.12 L722.05,552.54 L723.44,551.95 L724.81,551.35 L726.19,550.73 L727.56,550.11 L728.92,549.48 L730.28,548.84 L731.64,548.19 L732.99,547.54 L734.34,546.87 L735.68,546.20 L737.02,545.52 L738.36,544.84 L739.70,544.15 L741.03,543.45 L742.36,542.74 L743.68,542.03 L745.00,541.32 L746.32,540.60 L747.64,539.87 L748.95,539.14 L750.26,538.40 L751.57,537.66 L752.88,536.92 L754.18,536.17 L755.48,535.42 L756.79,534.67 L758.08,533.91 L759.38,533.15 L760.68,532.39 L761.97,531.62 L763.26,530.85 L764.55,530.08 L765.84,529.31 L767.13,528.53 L768.41,527.75 L769.70,526.97 L770.98,526.19 L772.27,525.41 L773.55,524.62 L774.83,523.83 L776.11,523.04 L777.38,522.25 L778.66,521.46 L779.94,520.67 L781.21,519.87 L782.49,519.07 L783.76,518.28 L785.04,517.48 L786.31,516.68 L787.58,515.88 L788.85,515.07 L790.12,514.27 L791.39,513.47 L792.66,512.66 L793.93,511.86 L795.20,511.05 L796.47,510.25 L797.74,509.44 L799.01,508.63 L800.28,507.83 L801.55,507.02 L802.81,506.21 L804.08,505.41 L805.35,504.60 L806.62,503.79 L807.89,502.98 L809.16,502.18 L810.42,501.37 L811.69,500.57 L812.96,499.76 L814.23,498.96 L815.50,498.15 L816.77,497.35 L818.04,496.55 L819.32,495.74 L820.59,494.94 L821.86,494.14 L823.13,493.34 L824.41,492.55 L825.68,491.75 L826.96,490.96 L828.24,490.16 L829.51,489.37 L830.79,488.58 L832.07,487.79 L833.35,487.00 L834.64,486.22 L835.92,485.43 L837.20,484.65 L838.49,483.87 L839.77,483.10 L841.06,482.32 L842.35,481.55 L843.64,480.78 L844.94,480.01 L846.23,479.24 L847.52,478.48 L848.82,477.72 L850.12,476.97 L851.42,476.21 L852.72,475.46 L854.03,474.71 L855.33,473.97 L856.64,473.23 L857.95,472.49 L859.26,471.76 L860.58,471.03 L861.89,470.30 L863.21,469.58 L864.53,468.86 L865.85,468.14 L867.18,467.43 L868.51,466.73 L869.84,466.03 L871.17,465.33 L872.50,464.64 L873.84,463.95 L875.18,463.27 L876.52,462.59 L877.87,461.92 L879.22,461.25 L880.57,460.59 L881.92,459.94 L883.27,459.29 L884.63,458.65 L886.00,458.01 L887.36,457.38 L888.73,456.76 L890.10,456.14 L891.47,455.53 L892.85,454.93 L894.23,454.33 L895.61,453.74 L897.00,453.16" fill="none" stroke="#00a8b4" stroke-width="1.45" stroke-linejoin="round"/>
<g class="t">
<text transform="translate(34.07,34.75) scale(0.8700,1)" font-size="25.4" letter-spacing="1.268">0.025</text>
<text transform="translate(47.67,112.65) scale(0.8700,1)" font-size="25.4" letter-spacing="1.263">0.02</text>
<text transform="translate(33.87,191.35) scale(0.8700,1)" font-size="25.4" letter-spacing="1.325">0.015</text>
<text transform="translate(47.67,269.65) scale(0.8700,1)" font-size="25.4" letter-spacing="1.263">0.01</text>
<text transform="translate(33.87,348.55) scale(0.8700,1)" font-size="25.4" letter-spacing="1.325">0.005</text>
<text transform="translate(81.90,427.55) scale(0.8366,1)" font-size="25.4" letter-spacing="0.000">0</text>
<rect x="21.70" y="495.95" width="13.4" height="1.9" fill="#000"/>
<text transform="translate(33.97,505.65) scale(0.8700,1)" font-size="25.4" letter-spacing="1.297">0.005</text>
<rect x="34.80" y="573.85" width="13.4" height="1.9" fill="#000"/>
<text transform="translate(47.07,583.55) scale(0.8700,1)" font-size="25.4" letter-spacing="1.493">0.01</text>
<rect x="22.00" y="653.50" width="13.4" height="1.9" fill="#000"/>
<text transform="translate(34.27,662.85) scale(0.8700,1)" font-size="25.4" letter-spacing="1.210">0.015</text>
<text transform="translate(88.91,683.55) scale(0.8700,1)" font-size="25.4" letter-spacing="1.769">80</text>
<text transform="translate(188.29,683.55) scale(0.8700,1)" font-size="25.4" letter-spacing="1.833">85</text>
<text transform="translate(287.61,683.55) scale(0.8700,1)" font-size="25.4" letter-spacing="1.833">90</text>
<text transform="translate(386.98,683.55) scale(0.8700,1)" font-size="25.4" letter-spacing="1.896">95</text>
<text transform="translate(479.34,683.55) scale(0.8700,1)" font-size="25.4" letter-spacing="1.516">100</text>
<text transform="translate(578.72,683.55) scale(0.8700,1)" font-size="25.4" letter-spacing="1.548">105</text>
<text transform="translate(678.09,683.55) scale(0.8700,1)" font-size="25.4" letter-spacing="2.468">110</text>
<text transform="translate(777.47,683.55) scale(0.8700,1)" font-size="25.4" letter-spacing="2.500">115</text>
<text transform="translate(876.84,683.55) scale(0.8700,1)" font-size="25.4" letter-spacing="1.516">120</text>
<text transform="translate(446.68,713.31) scale(0.8700,1)" font-size="26" letter-spacing="0.936">spot price</text>
<rect x="660" y="39" width="220" height="129" fill="#fff"/>
<g fill="#000" shape-rendering="crispEdges"><rect x="660" y="39" width="220" height="1"/><rect x="660" y="166" width="220" height="2"/><rect x="660" y="39" width="2" height="129"/><rect x="879" y="39" width="1" height="129"/></g>
<rect x="675" y="57.0" width="73" height="2" fill="#00009c"/>
<text transform="translate(754.43,65.70) scale(0.8700,1)" font-size="26" letter-spacing="0.974">nig vs. g</text>
<rect x="675" y="87.0" width="73" height="2" fill="#0a5c0a"/>
<text transform="translate(754.94,95.50) scale(0.8700,1)" font-size="26" letter-spacing="1.150">cgmy vs. g</text>
<rect x="675" y="117.0" width="73" height="2" fill="#b40e0e"/>
<text transform="translate(755.00,125.70) scale(0.8700,1)" font-size="26" letter-spacing="0.993">de vs. g</text>
<rect x="675" y="147.0" width="73" height="2" fill="#2a9ea6"/>
<text transform="translate(754.97,155.40) scale(0.8700,1)" font-size="26" letter-spacing="0.870">jd vs. g</text>
</g>
</svg>
</body></html>
